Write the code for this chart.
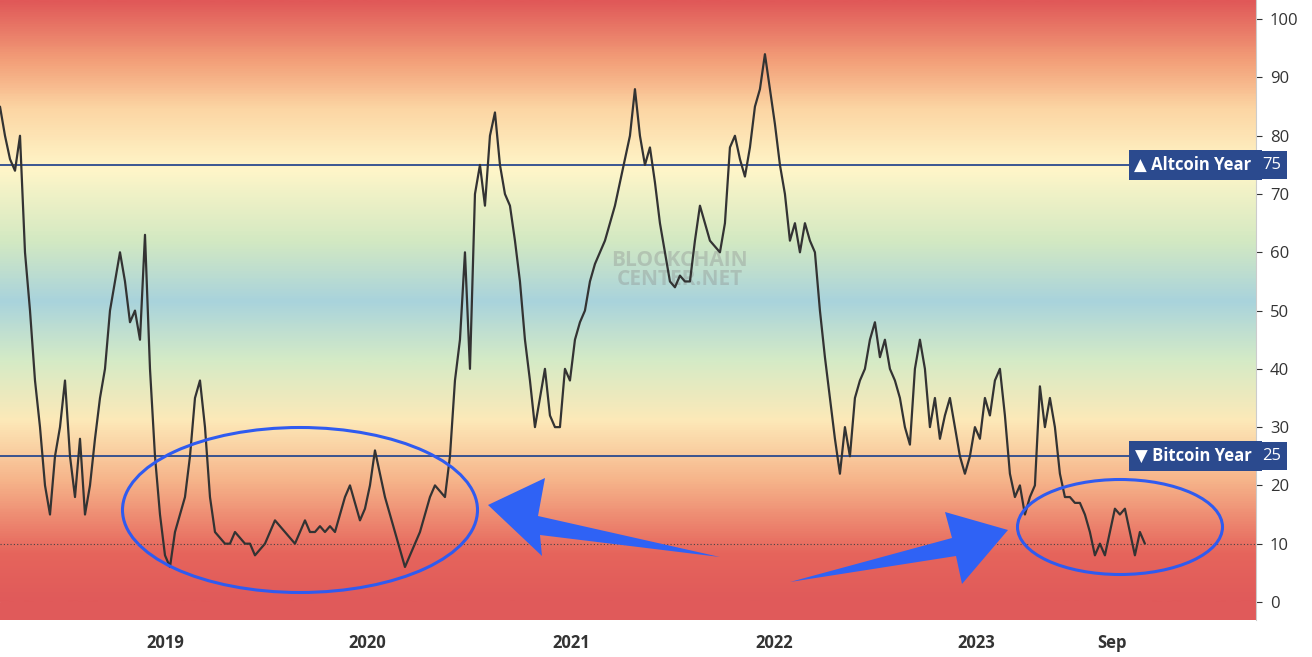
import numpy as np, pandas as pd, matplotlib
matplotlib.use("Agg")
import matplotlib.pyplot as plt, seaborn as sns, matplotlib.dates as mdates
from matplotlib.colors import LinearSegmentedColormap
from matplotlib.patches import Ellipse, Polygon

sns.set_style("white")
plt.rcParams['font.family'] = ['Open Sans', 'DejaVu Sans']

start_date = "2018-03-10"
step = "9D"
values = [85,80,76,74,80,60,50,38,30,20,15,25,30,38,25,18,28,15,20,28,
          35,40,50,55,60,55,48,50,45,63,40,25,15,8,6,12,15,18,25,35,
          38,30,18,12,11,10,10,12,11,10,10,8,9,10,12,14,13,12,11,10,
          12,14,12,12,13,12,13,12,15,18,20,17,14,16,20,26,22,18,15,12,
          9,6,8,10,12,15,18,20,19,18,25,38,45,60,40,70,75,68,80,84,
          75,70,68,62,55,45,38,30,35,40,32,30,30,40,38,45,48,50,55,58,
          60,62,65,68,72,76,80,88,80,75,78,72,65,60,55,54,56,55,55,62,
          68,65,62,61,60,65,78,80,76,73,78,85,88,94,88,82,75,70,62,65,
          60,65,62,60,50,42,35,28,22,30,25,35,38,40,45,48,42,45,40,38,
          35,30,27,40,45,40,30,35,28,32,35,30,25,22,25,30,28,35,32,38,
          40,32,22,18,20,15,18,20,37,30,35,30,22,18,18,17,17,15,12,8,
          10,8,12,16,15,16,12,8,12,10]
df = pd.DataFrame({"date": pd.date_range(start_date, periods=len(values), freq=step),
                   "index": values})

W, H = 1312, 657
fig = plt.figure(figsize=(W/100, H/100), dpi=100)
ax = fig.add_axes([0, 1-620/H, 1256/W, 620/H])
ymin, ymax = -3.1, 103.3
x0, x1 = pd.Timestamp("2018-03-10"), pd.Timestamp("2024-05-18")

stops = [(0, "#e05a5a"), (0.08, "#e6655c"), (0.2, "#f6b48a"), (0.3, "#fde9b8"),
         (0.4, "#d5ebc6"), (0.5, "#a9d3dc"), (0.6, "#d3e9c2"), (0.72, "#fff6c9"),
         (0.82, "#fcd6a4"), (0.9, "#f3a079"), (1.0, "#e05858")]
cmap = LinearSegmentedColormap.from_list("bg", stops)
grad = np.linspace(0, 1, 500).reshape(-1, 1)
ax.imshow(grad, aspect="auto", cmap=cmap, origin="lower",
          extent=[mdates.date2num(x0), mdates.date2num(x1), 0, 103.3], zorder=0)
ax.axhspan(ymin, 0, color="#e05a5a", zorder=0)

sns.lineplot(data=df, x="date", y="index", ax=ax, color="#333333", lw=1.6, zorder=3)
ax.axhline(75, color="#2b4a8e", lw=1.3, zorder=2)
ax.axhline(25, color="#2b4a8e", lw=1.3, zorder=2)
ax.axhline(10, color="#444444", lw=0.8, ls=(0, (1, 2)), zorder=2)

ax.set_xlim(x0, x1); ax.set_ylim(ymin, ymax)
ax.set_xlabel(""); ax.set_ylabel("")
ax.yaxis.tick_right()
ax.set_yticks(range(0, 101, 10))
ax.tick_params(axis="y", labelsize=12, colors="#333333", length=4, pad=6)
xt = [pd.Timestamp(f"{y}-01-01") for y in range(2019, 2024)] + [pd.Timestamp("2023-09-01")]
ax.set_xticks(xt)
ax.set_xticklabels(["2019", "2020", "2021", "2022", "2023", "Sep"], fontsize=12,
                   fontweight="bold", color="#333333")
ax.tick_params(axis="x", length=0, pad=10)
for s in ax.spines.values(): s.set_visible(False)
ax.spines["right"].set_visible(True); ax.spines["right"].set_color("#cccccc")
fig.patch.set_facecolor("white")

for val, lab in [(75, "▲ Altcoin Year"), (25, "▼ Bitcoin Year")]:
    ax.text(1.0, val, lab + " ", transform=ax.get_yaxis_transform(), ha="right", va="center",
            color="white", fontsize=12, fontweight="bold", zorder=6,
            bbox=dict(boxstyle="square,pad=0.35", fc="#2b4a8e", ec="none"))
    ax.text(1.005, val, str(val), transform=ax.get_yaxis_transform(), ha="left", va="center",
            color="white", fontsize=12, zorder=6,
            bbox=dict(boxstyle="square,pad=0.35", fc="#2b4a8e", ec="none"))

ax.text(mdates.date2num(pd.Timestamp("2021-07-15")), 57, "BLOCKCHAIN\nCENTER.NET",
        ha="center", va="center", fontsize=15, fontweight="bold", color="#8a8a8a",
        alpha=0.35, linespacing=0.9, zorder=2)

def px2d(xp): return mdates.date2num(x0) + xp / 1256 * (mdates.date2num(x1) - mdates.date2num(x0))
def py2v(yp): return ymax - yp / 620 * (ymax - ymin)
for cx, cy, w, h in [(300, 510, 355, 165), (1120, 527, 205, 95)]:
    ax.add_patch(Ellipse((px2d(cx), py2v(cy)), px2d(w) - px2d(0), py2v(0) - py2v(h),
                         fill=False, ec="#2f5bf0", lw=2.2, zorder=5))
arrows = [[(488, 505), (545, 478), (538, 516), (720, 557), (540, 535), (542, 556)],
          [(1008, 530), (945, 512), (952, 538), (790, 582), (956, 556), (962, 584)]]
for pts in arrows:
    ax.add_patch(Polygon([(px2d(a), py2v(b)) for a, b in pts], closed=True,
                         fc="#2f62f5", ec="none", zorder=5))

fig.savefig("out.png", dpi=100)
